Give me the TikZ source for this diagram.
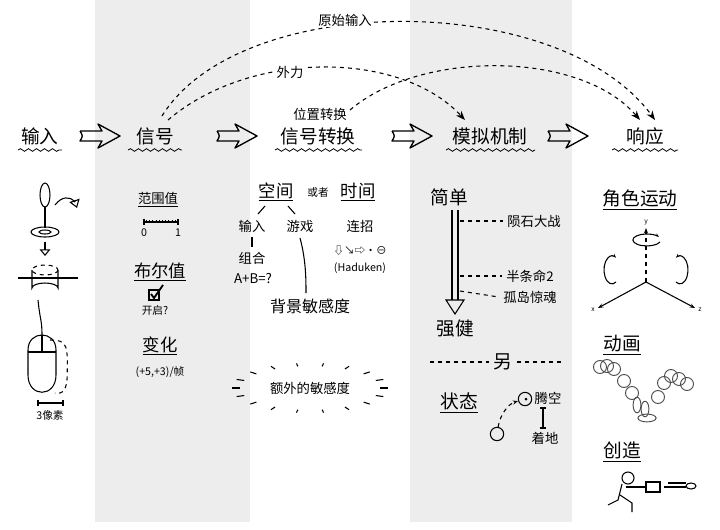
\documentclass[tikz,border=0pt]{standalone}
\usepackage{fontspec}
\setmainfont{Noto Sans CJK SC}
\usetikzlibrary{arrows.meta,decorations.pathmorphing,shapes.arrows}
\begin{document}
\begin{tikzpicture}[x=0.75pt,y=-0.75pt,
  hd/.style={font=\fontsize{14}{16}\selectfont},
  md/.style={font=\fontsize{10}{12}\selectfont},
  sm/.style={font=\fontsize{8}{10}\selectfont},
  ul/.style={font=\fontsize{13}{15}\selectfont},
  wav/.style={decorate,decoration={snake,amplitude=1pt,segment length=6pt},line width=0.6pt},
  dsh/.style={dashed,line width=0.8pt,-{Stealth[length=7pt]}},
  ln/.style={line width=0.8pt}]
\useasboundingbox (0,0) rectangle (720,529);
\fill[white] (0,0) rectangle (720,529);
\fill[black!7] (95,0) rectangle (250,522);
\fill[black!7] (410,0) rectangle (572,522);
% headers
\node[hd] (in) at (40,136) {输入};
\node[hd] (sig) at (155,136) {信号};
\node[hd] (conv) at (318,136) {信号转换};
\node[hd] (sim) at (490,136) {模拟机制};
\node[hd] (resp) at (645,136) {响应};
\foreach \a/\b in {18/62,128/182,275/362,446/535,612/678}
  \draw[wav] (\a,150) -- (\b,150);
\foreach \x in {100,237,412,568}
  \draw[line width=1pt,line join=round] (\x-20,131) -- (\x+2,131) .. controls (\x,128) .. (\x-2,124) -- (\x+20,136) -- (\x-2,148) .. controls (\x,144) .. (\x+2,141) -- (\x-20,141) .. controls (\x-17,136) .. (\x-20,131);
% arcs
\coordinate (s1) at (162,116);
\coordinate (r1) at (655,120);
\draw[dsh] (s1) .. controls (240,-10) and (560,-10) .. (r1);
\node[md,fill=white,inner sep=1pt] (lab1) at (345,20) {原始输入};
\coordinate (s2) at (168,120);
\coordinate (m2) at (465,120);
\draw[dsh] (s2) .. controls (250,50) and (400,50) .. (m2);
\node[md,fill=white,inner sep=1pt] (lab2) at (290,72) {外力};
\coordinate (c3) at (350,110);
\coordinate (r3) at (640,120);
\draw[dsh] (c3) .. controls (420,50) and (580,50) .. (r3);
\node[md] (lab3) at (320,114) {位置转换};
% input icons
\draw[ln] (45,195) ellipse (5 and 12);
\draw[ln] (45,207) -- (45,228);
\draw[ln] (45,232) ellipse (14 and 5);
\draw[ln] (45,232) ellipse (6 and 2);
\draw[ln] (55,205) .. controls (62,196) and (70,196) .. (75,202);
\draw[ln,-{Triangle[open,length=6pt,width=8pt]}] (75,202) -- (77,208);
\draw[ln,-{Triangle[open,length=5pt,width=8pt]}] (45,242) -- (45,256);
\draw[ln] (18,278) -- (78,278);
\draw[ln] (32,270) -- (32,288) arc (180:360:13 and 5) -- (58,270);
\draw[ln,dashed] (45,270) ellipse (13 and 5);
\draw[ln] (38,300) .. controls (40,320) and (42,320) .. (42,335);
\draw[ln] (28,350) .. controls (28,330) and (56,330) .. (56,350) -- (56,375) .. controls (56,398) and (28,398) .. (28,375) -- cycle;
\draw[ln] (28,352) -- (56,352) (42,335) -- (42,352);
\draw[ln,dashed] (50,340) .. controls (68,340) and (68,345) .. (67,380) .. controls (66,392) and (60,395) .. (55,393);
\draw[ln] (38,403) -- (63,403) (38,400) -- (38,406) (63,400) -- (63,406);
\node[sm] (px) at (50,415) {3像素};
% signal column
\node[md] (range) at (158,200) {\underline{范围值}};
\draw[ln] (144,222) -- (178,222) (144,219) -- (144,225) (178,219) -- (178,225);
\draw[dotted] (146,220) -- (176,220);
\node[sm] at (144,233) {0};
\node[sm] at (178,233) {1};
\node[ul] (bool) at (160,272) {\underline{布尔值}};
\draw[ln] (149,290) rectangle (159,300);
\draw[line width=1.4pt] (151,294) -- (154,298) -- (163,285);
\node[sm] (on) at (155,310) {开启?};
\node[ul] (chg) at (160,346) {\underline{变化}};
\node[sm] (fr) at (160,372) {(+5,+3)/帧};
% conversion column
\node[ul] (space) at (276,192) {\underline{空间}};
\node[sm] (or) at (318,192) {或者};
\node[ul] (time) at (358,192) {\underline{时间}};
\node[md] (inp) at (252,226) {输入};
\node[md] (game) at (300,226) {游戏};
\node[md] (combo) at (360,226) {连招};
\draw[ln] (265,206) -- (258,214);
\draw[ln] (288,206) -- (295,214);
\node[md] (grp) at (252,258) {组合};
\node[md] (ab) at (253,278) {A+B=?};
\draw[ln] (inp) -- (grp);
\node[font=\fontsize{12}{14}\selectfont] (bg) at (310,306) {背景敏感度};
\draw[ln] (300,238) .. controls (306,260) and (306,280) .. (306,293);
\node[sm] (seq) at (360,251) {⇩↘⇨•⊖};
\node[sm] (had) at (360,268) {(Haduken)};
\node[md] (extra) at (310,388) {额外的敏感度};
\foreach \ang in {0,20,...,340}
  \draw[ln] ({310+70*cos(\ang)},{388+22*sin(\ang)}) -- ({310+78*cos(\ang)},{388+25*sin(\ang)});
% simulation column
\node[hd] (simple) at (449,197) {简单};
\draw[ln] (452,210) -- (452,300) (458,210) -- (458,300);
\draw[ln,fill=black!7] (446,300) -- (464,300) -- (455,314) -- cycle;
\node[md] (g1) at (534,221) {陨石大战};
\node[md] (g2) at (530,276) {半条命2};
\node[md] (g3) at (530,297) {孤岛惊魂};
\draw[ln,dashed] (460,221) -- (g1.west);
\draw[ln,dashed] (460,276) -- (g2.west);
\draw[ln,dashed] (460,291) -- (g3.west);
\node[hd] (robust) at (455,328) {强健};
\node[hd] (alt) at (503,362) {另};
\draw[ln,dashed] (430,362) -- (alt.west);
\draw[ln,dashed] (alt.east) -- (565,362);
\node[hd] (state) at (459,403) {\underline{状态}};
\node[draw,circle,ln,minimum size=10pt,inner sep=0pt] (face1) at (497,434) {};
\node[draw,circle,ln,minimum size=10pt,inner sep=0pt] (face2) at (525,399) {};
\fill (526,399) circle (1.5);
\draw[ln,dashed,-{Stealth[length=4pt]}] (face1) .. controls (500,415) and (508,404) .. (face2);
\node[md] (air) at (548,398) {腾空};
\node[md] (land) at (545,438) {着地};
\draw[ln] (543,408) -- (543,428) (540,408) -- (546,408) (540,428) -- (546,428);
% response column
\node[hd] (move) at (640,200) {\underline{角色运动}};
\draw[ln,dashed,-{Stealth[length=4pt]}] (646,282) -- (646,228);
\node[font=\tiny] at (646,222) {y};
\draw[ln,-{Stealth[length=4pt]}] (646,282) -- (598,308);
\node[font=\tiny] at (593,310) {x};
\draw[ln,-{Stealth[length=4pt]}] (646,282) -- (695,308);
\node[font=\tiny] at (700,310) {z};
\draw[ln,-{Stealth[length=3pt]}] (660,242) arc (20:330:14 and 6);
\draw[ln,-{Stealth[length=3pt]}] (616,282) arc (60:300:8 and 14);
\draw[ln,-{Stealth[length=3pt]}] (676,282) arc (120:-120:8 and 14);
\node[hd] (anim) at (622,345) {\underline{动画}};
\foreach \x/\y/\a/\b in {600/367/5/5,607/366/5/5,614/369/5/5,624/381/5/5,632/393/5/5,637/405/3/6,645/409/3/6,647/418/7/3,658/397/5/5,664/383/5/5,671/376/5/5,679/379/5/5,687/384/5/5}
  \draw[line width=0.7pt,black!70] (\x,\y) ellipse (\a*1.3 and \b*1.3);
\node[hd] (create) at (622,452) {\underline{创造}};
\draw[ln] (628,478) circle (6);
\draw[ln] (622,484) -- (618,500) -- (608,505);
\draw[ln] (620,495) -- (632,503) -- (632,512);
\draw[ln] (626,487) -- (646,487);
\draw[ln] (646,482) rectangle (660,492);
\draw[ln] (664,487) -- (686,487) (668,483) -- (686,483);
\draw[ln] (691,486) ellipse (5 and 3);
\end{tikzpicture}
\end{document}
